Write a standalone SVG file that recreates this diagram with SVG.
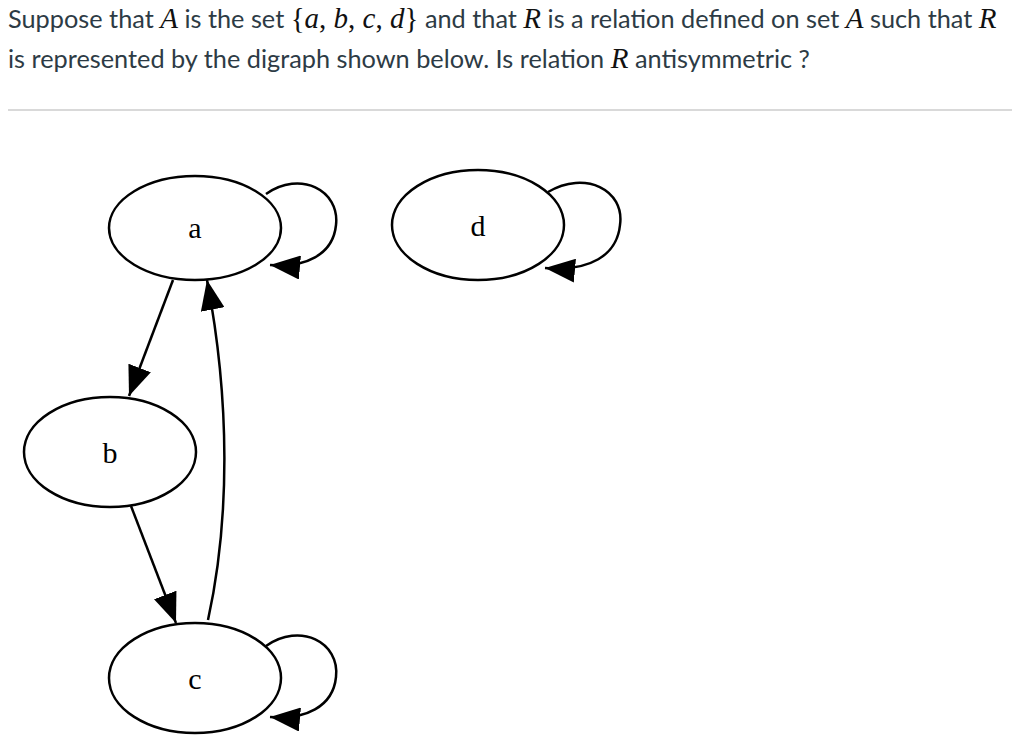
<svg xmlns="http://www.w3.org/2000/svg" width="1024" height="751" viewBox="0 0 1024 751">
<style>
.q{font-family:Lato,"Liberation Sans",sans-serif;font-size:25.3px;fill:#2d3b45}
.m{font-family:"Liberation Serif",serif;font-style:italic;font-size:29px;fill:#111}
.b{font-family:"Liberation Serif",serif;font-size:29px;fill:#111}
.n{fill:#fff;stroke:#000;stroke-width:2.5}
.l{font-family:"Liberation Serif",serif;font-size:30px;text-anchor:middle;fill:#000}
</style>
<defs><marker id="ar2" viewBox="0 0 10 8" refX="10" refY="4" markerWidth="30" markerHeight="24" orient="auto" markerUnits="userSpaceOnUse"><path d="M0,0L10,4L0,8z"/></marker></defs>
<text class="q" x="8" y="28">Suppose that <tspan class="m">A</tspan> is the set <tspan class="b">{</tspan><tspan class="m">a</tspan><tspan class="b">, </tspan><tspan class="m">b</tspan><tspan class="b">, </tspan><tspan class="m">c</tspan><tspan class="b">, </tspan><tspan class="m">d</tspan><tspan class="b">}</tspan> and that <tspan class="m">R</tspan> is a relation defined on set <tspan class="m">A</tspan> such that <tspan class="m">R</tspan></text>
<text class="q" x="8" y="68">is represented by the digraph shown below.  Is relation <tspan class="m">R</tspan> antisymmetric ?</text>
<line x1="8" y1="110" x2="1012" y2="110" stroke="#ccc" stroke-width="1.5"/>
<g id="edges" fill="none" stroke="#000" stroke-width="2.5">
<path d="M266,194C300,170 340,190 336,225C333,255 305,268 270,265" marker-end="url(#ar2)"/>
<path d="M548,192C585,170 625,190 620,225C617,255 590,272 545,268" marker-end="url(#ar2)"/>
<path d="M266,646C300,622 340,642 336,677C333,707 305,720 270,717" marker-end="url(#ar2)"/>
<path d="M173,280L129,396" marker-end="url(#ar2)"/>
<path d="M131,506L176,623" marker-end="url(#ar2)"/>
<path d="M208,620C230,520 230,400 207,280" marker-end="url(#ar2)"/>
</g>
<g id="a"><ellipse class="n" cx="195" cy="228" rx="86" ry="52"/><text class="l" x="195" y="238">a</text></g>
<g id="d"><ellipse class="n" cx="478" cy="225" rx="86" ry="55"/><text class="l" x="478" y="236">d</text></g>
<g id="b"><ellipse class="n" cx="110" cy="452" rx="86" ry="55"/><text class="l" x="110" y="463">b</text></g>
<g id="c"><ellipse class="n" cx="195" cy="678" rx="86" ry="55"/><text class="l" x="195" y="689">c</text></g>
</svg>
